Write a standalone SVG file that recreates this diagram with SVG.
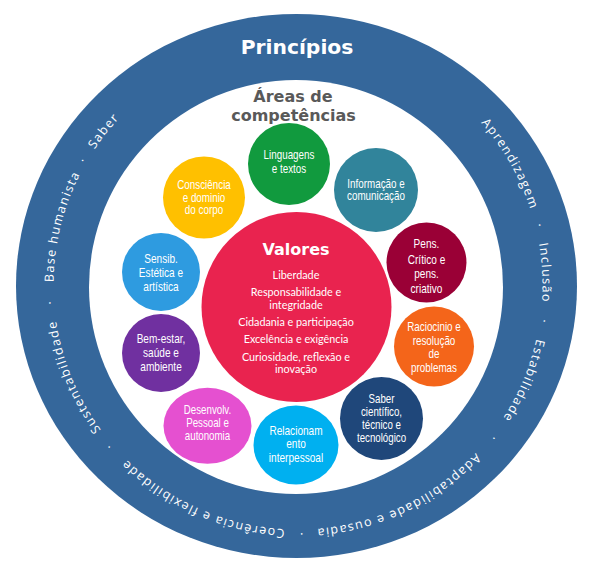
<svg xmlns="http://www.w3.org/2000/svg" width="591" height="581" viewBox="0 0 591 581">
<defs>
<style>
.ring{font-family:"Open Sans","Noto Sans","DejaVu Sans",sans-serif;font-size:12.5px;fill:#ffffff;letter-spacing:1.4px}
.title{font-family:"DejaVu Sans","Verdana",sans-serif;font-weight:bold;text-anchor:middle}
.ct{font-family:"Liberation Sans",Arial,sans-serif;font-size:12px;fill:#ffffff;text-anchor:middle}
.vt{font-family:Lato,"Open Sans",sans-serif;font-size:10.8px;fill:#ffffff;text-anchor:middle}
</style>
<path id="ringPath" d="M 298 40.5 A 244.5 244.5 0 1 1 298 529.5 A 244.5 244.5 0 1 1 298 40.5"/>
</defs>
<rect width="591" height="581" fill="#ffffff"/>
<g id="principios">
<ellipse cx="296.5" cy="286" rx="280.5" ry="272" fill="#35679b"/>
<text class="title" x="297" y="54" font-size="20.3" fill="#ffffff">Princípios</text>
<text class="ring"><textPath href="#ringPath" startOffset="16.75%" text-anchor="middle">Aprendizagem</textPath></text>
<text class="ring"><textPath href="#ringPath" startOffset="21.17%" text-anchor="middle">·</textPath></text>
<text class="ring"><textPath href="#ringPath" startOffset="24.22%" text-anchor="middle">Inclusão</textPath></text>
<text class="ring"><textPath href="#ringPath" startOffset="27.36%" text-anchor="middle">·</textPath></text>
<text class="ring"><textPath href="#ringPath" startOffset="31.39%" text-anchor="middle">Estabilidade</textPath></text>
<text class="ring"><textPath href="#ringPath" startOffset="35.61%" text-anchor="middle">·</textPath></text>
<text class="ring"><textPath href="#ringPath" startOffset="42.94%" text-anchor="middle">Adaptabilidade e ousadia</textPath></text>
<text class="ring"><textPath href="#ringPath" startOffset="49.81%" text-anchor="middle">·</textPath></text>
<text class="ring"><textPath href="#ringPath" startOffset="56.64%" text-anchor="middle">Coerência e flexibilidade</textPath></text>
<text class="ring"><textPath href="#ringPath" startOffset="63.75%" text-anchor="middle">·</textPath></text>
<text class="ring"><textPath href="#ringPath" startOffset="68.81%" text-anchor="middle">Sustentabilidade</textPath></text>
<text class="ring"><textPath href="#ringPath" startOffset="73.89%" text-anchor="middle">·</textPath></text>
<text class="ring"><textPath href="#ringPath" startOffset="78.86%" text-anchor="middle">Base humanista</textPath></text>
<text class="ring"><textPath href="#ringPath" startOffset="83.39%" text-anchor="middle">·</textPath></text>
<text class="ring"><textPath href="#ringPath" startOffset="85.67%" text-anchor="middle">Saber</textPath></text>
</g>
<g id="areas">
<circle cx="296" cy="287" r="207" fill="#ffffff"/>
<text class="title" x="293" y="102" font-size="16" fill="#595959">Áreas de</text>
<text class="title" x="293.5" y="121" font-size="16" fill="#595959">competências</text>
</g>
<g id="connectors"/>
<g id="linguagens">
<circle cx="289" cy="164" r="41" fill="#119a3e"/>
<text class="ct" transform="translate(289 0) scale(0.82 1)"><tspan x="0" y="159.5">Linguagens</tspan><tspan x="0" y="173">e textos</tspan></text>
</g>
<g id="consciencia">
<circle cx="204" cy="197.5" r="41" fill="#ffc000"/>
<text class="ct" transform="translate(204 0) scale(0.82 1)"><tspan x="0" y="189">Consciência</tspan><tspan x="0" y="202">e dominio</tspan><tspan x="0" y="214.5">do corpo</tspan></text>
</g>
<g id="informacao">
<circle cx="376" cy="190" r="42" fill="#31849b"/>
<text class="ct" transform="translate(376 0) scale(0.82 1)"><tspan x="0" y="188">Informação e</tspan><tspan x="0" y="200.5">comunicação</tspan></text>
</g>
<g id="pensamento">
<circle cx="426.5" cy="262.5" r="40" fill="#9a0036"/>
<text class="ct" transform="translate(426.5 0) scale(0.84 1)"><tspan x="0" y="248.5">Pens.</tspan><tspan x="0" y="264">Crítico e</tspan><tspan x="0" y="278">pens.</tspan><tspan x="0" y="293">criativo</tspan></text>
</g>
<g id="raciocinio">
<circle cx="434" cy="346.5" r="40" fill="#f4651a"/>
<text class="ct" font-size="11.5" transform="translate(434 0) scale(0.82 1)"><tspan x="0" y="331">Raciocinio  e</tspan><tspan x="0" y="345">resolução</tspan><tspan x="0" y="358.5">de</tspan><tspan x="0" y="372.5">problemas</tspan></text>
</g>
<g id="saber">
<circle cx="381.5" cy="418.5" r="41.5" fill="#1f477a"/>
<text class="ct" transform="translate(381.5 0) scale(0.81 1)"><tspan x="0" y="403">Saber</tspan><tspan x="0" y="416">científico,</tspan><tspan x="0" y="429">técnico e</tspan><tspan x="0" y="442">tecnológico</tspan></text>
</g>
<g id="relacionamento">
<ellipse cx="296" cy="445" rx="42.5" ry="39.5" fill="#00b0f0"/>
<text class="ct" transform="translate(296 0) scale(0.84 1)"><tspan x="0" y="435.5">Relacionam</tspan><tspan x="0" y="448.5">ento</tspan><tspan x="0" y="462.5">interpessoal</tspan></text>
</g>
<g id="desenvolvimento">
<ellipse cx="207.5" cy="425.8" rx="44" ry="38" fill="#e550d0"/>
<text class="ct" transform="translate(207.5 0) scale(0.81 1)"><tspan x="0" y="414.5">Desenvolv.</tspan><tspan x="0" y="427">Pessoal e</tspan><tspan x="0" y="440">autonomia</tspan></text>
</g>
<g id="bem-estar">
<circle cx="161" cy="353" r="39" fill="#7030a0"/>
<text class="ct" transform="translate(161 0) scale(0.84 1)"><tspan x="0" y="342.7">Bem-estar,</tspan><tspan x="0" y="356.7">saúde e</tspan><tspan x="0" y="370.7">ambiente</tspan></text>
</g>
<g id="sensibilidade">
<circle cx="161" cy="272" r="39" fill="#2e9be0"/>
<text class="ct" transform="translate(161 0) scale(0.84 1)"><tspan x="0" y="263">Sensib.</tspan><tspan x="0" y="277">Estética e</tspan><tspan x="0" y="291">artística</tspan></text>
</g>
<g id="valores">
<circle cx="296.5" cy="307" r="95" fill="#e9234f"/>
<text class="title" x="296" y="255" font-size="16" fill="#ffffff">Valores</text>
<text class="vt"><tspan x="296" y="279">Liberdade</tspan><tspan x="296" y="295.7">Responsabilidade e</tspan><tspan x="296" y="308.5">integridade</tspan><tspan x="296" y="326">Cidadania e participação</tspan><tspan x="296" y="343.3">Excelência e exigência</tspan><tspan x="296" y="360.7">Curiosidade, reflexão e</tspan><tspan x="296" y="373.3">inovação</tspan></text>
</g>
</svg>
